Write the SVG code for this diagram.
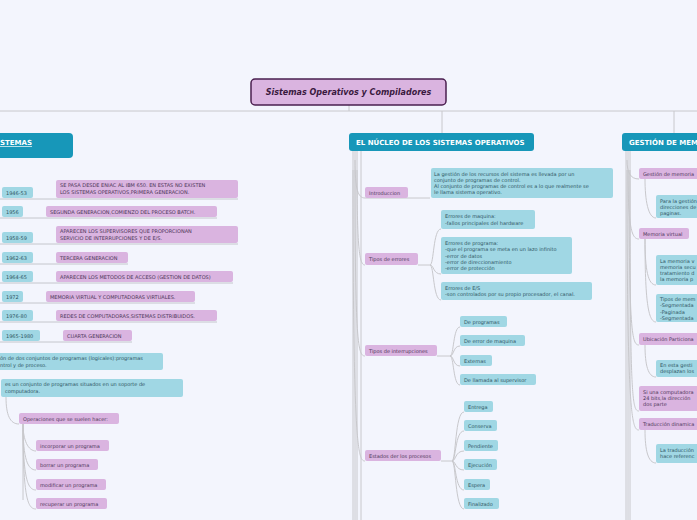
<svg xmlns="http://www.w3.org/2000/svg" width="697" height="520" viewBox="0 0 697 520">
<style>
text{font-family:"DejaVu Sans",Verdana,sans-serif;font-size:5px}
.p{fill:#dab4e0}
.t{fill:#a0d7e4}
.pt{fill:#4d3658}
.tt{fill:#2e5563}
.h{fill:#1797b9}
.ht{fill:#fff;font-weight:bold;font-size:7px}
.c{fill:none;stroke:#c8c8cc;stroke-width:1}
.u{stroke:#c4c6cc;stroke-width:1}
</style>
<rect width="697" height="520" fill="#f3f5fd"/>
<g id="connectors">
<path class="c" d="M0 111 H697" stroke-width="1.5"/>
<path class="c" d="M349 105 V111 M442 111 V133 M674 111 V133"/>
<path class="c" d="M353 151 V520 M355 151 V520 M357 151 V520 M361 151 V520"/>
<path class="c" d="M355 160 C355 190 358 198 365 198 H430"/>
<path class="c" d="M357 170 C357 255 360 265 365 265 M418 265 H430 M430 265 C434 265 433 229 441 229 M430 265 C434 265 433 274 441 274 M430 265 C434 265 433 300 441 300"/>
<path class="c" d="M355 170 C355 345 358 356 365 356 M437 356 H450 M450 356 C454 356 453 327 460 327 M450 356 C454 356 453 346 460 346 M450 356 C454 356 453 366 460 366 M450 356 C454 356 453 385 460 385"/>
<path class="c" d="M353 170 C353 450 358 461 365 461 M441 461 H452 M452 461 C456 461 455 412 464 412 M452 461 C456 461 455 431 464 431 M452 461 C456 461 455 451 464 451 M452 461 C456 461 455 470 464 470 M452 461 C456 461 455 490 464 490 M452 461 C456 461 455 509 464 509"/>
<path class="c" d="M626 151 V520 M628 151 V520 M630 151 V520"/>
<path class="c" d="M627 160 C627 172 630 179 639 179 M645 179 C645 200 648 218 656 218 M628 170 C628 230 632 239 639 239 M645 239 C645 270 648 285 656 285 M645 239 C645 300 648 322 656 322 M629 170 C629 335 632 345 639 345 M645 345 C645 365 648 377 656 377 M630 170 C630 400 632 411 639 411 M627 170 C627 420 632 430 639 430 M645 430 C645 450 648 463 656 463"/>
<path class="c" d="M6 397 C6 415 10 424 19 424 M23 424 V500 M23 424 C23 440 28 451 36 451 M23 424 C23 460 28 470 36 470 M23 424 C23 480 28 490 36 490 M23 424 C23 500 28 509 36 509"/>
</g>
<g id="root"><rect x="251" y="79" width="195" height="26" rx="4" fill="#dab4e0" stroke="#4a1f4f" stroke-width="1.5"/><text x="348.5" y="95" text-anchor="middle" style="font-size:8px;font-weight:bold;font-style:italic;fill:#3a1a3f">Sistemas Operativos y Compiladores</text></g>
<g id="h-left"><rect class="h" x="-10" y="133" width="83" height="25" rx="4"/><text class="ht" x="0" y="145" text-decoration="underline">STEMAS </text></g>
<g id="h-center"><rect class="h" x="349" y="133" width="185" height="18" rx="3"/><text class="ht" x="356" y="145">EL NÚCLEO DE LOS SISTEMAS OPERATIVOS</text></g>
<g id="h-right"><rect class="h" x="622" y="133" width="90" height="18" rx="3"/><text class="ht" x="629" y="145">GESTIÓN DE MEMORIA</text></g>
<g id="left-timeline">
<line class="u" x1="0" y1="199" x2="238" y2="199"/><rect class="t" x="2" y="187" width="31" height="11" rx="2"/><text class="tt" x="6" y="194.5">1946-53</text><rect class="p" x="56" y="180" width="182" height="18" rx="2"/><text class="pt" x="60" y="187">SE PASA DESDE ENIAC AL IBM 650. EN ESTAS NO EXISTEN</text><text class="pt" x="60" y="194">LOS SISTEMAS OPERATIVOS,PRIMERA GENERACION.</text>
<line class="u" x1="0" y1="218" x2="217" y2="218"/><rect class="t" x="2" y="206" width="21" height="11" rx="2"/><text class="tt" x="6" y="213.5">1956</text><rect class="p" x="46" y="206" width="171" height="11" rx="2"/><text class="pt" x="50" y="213.5">SEGUNDA GENERACION,COMIENZO DEL PROCESO BATCH.</text>
<line class="u" x1="0" y1="244" x2="238" y2="244"/><rect class="t" x="2" y="232" width="31" height="11" rx="2"/><text class="tt" x="6" y="239.5">1958-59</text><rect class="p" x="56" y="226" width="182" height="17" rx="2"/><text class="pt" x="60" y="233">APARECEN LOS SUPERVISORES QUE PROPORCIONAN</text><text class="pt" x="60" y="239.5">SERVICIO DE INTERRUPCIONES Y DE E/S.</text>
<line class="u" x1="0" y1="264" x2="128" y2="264"/><rect class="t" x="2" y="252" width="31" height="11" rx="2"/><text class="tt" x="6" y="259.5">1962-63</text><rect class="p" x="56" y="252" width="72" height="11" rx="2"/><text class="pt" x="60" y="259.5">TERCERA GENERACION</text>
<line class="u" x1="0" y1="283" x2="233" y2="283"/><rect class="t" x="2" y="271" width="31" height="11" rx="2"/><text class="tt" x="6" y="278.5">1964-65</text><rect class="p" x="56" y="271" width="177" height="11" rx="2"/><text class="pt" x="60" y="278.5">APARECEN LOS METODOS DE ACCESO (GESTION DE DATOS)</text>
<line class="u" x1="0" y1="303" x2="195" y2="303"/><rect class="t" x="2" y="291" width="21" height="11" rx="2"/><text class="tt" x="6" y="298.5">1972</text><rect class="p" x="46" y="291" width="149" height="11" rx="2"/><text class="pt" x="50" y="298.5">MEMORIA VIRTUAL Y COMPUTADORAS VIRTUALES.</text>
<line class="u" x1="0" y1="322" x2="217" y2="322"/><rect class="t" x="2" y="310" width="31" height="11" rx="2"/><text class="tt" x="6" y="317.5">1976-80</text><rect class="p" x="56" y="310" width="161" height="11" rx="2"/><text class="pt" x="60" y="317.5">REDES DE COMPUTADORAS,SISTEMAS DISTRIBUIDOS.</text>
<line class="u" x1="0" y1="342" x2="132" y2="342"/><rect class="t" x="2" y="330" width="38" height="11" rx="2"/><text class="tt" x="6" y="337.5">1965-1980</text><rect class="p" x="63" y="330" width="69" height="11" rx="2"/><text class="pt" x="67" y="337.5">CUARTA GENERACION</text>
</g>
<g id="left-lower">
<rect class="t" x="-5" y="353" width="168" height="17" rx="2"/><text class="tt" x="0" y="360">ón de dos conjuntos de programas (logicales):programas</text><text class="tt" x="0" y="366.5">ntrol y de proceso.</text>
<rect class="t" x="1" y="379" width="182" height="18" rx="2"/><text class="tt" x="5" y="386">es un conjunto de programas situados en un soporte de</text><text class="tt" x="5" y="392.5">computadora.</text>
<rect class="p" x="19" y="413" width="100" height="11" rx="2"/><text class="pt" x="23" y="420.5">Operaciones que se suelen hacer:</text>
<rect class="p" x="36" y="440" width="73" height="11" rx="2"/><text class="pt" x="40" y="447.5">incorporar un programa</text>
<rect class="p" x="36" y="459" width="62" height="11" rx="2"/><text class="pt" x="40" y="466.5">borrar un programa</text>
<rect class="p" x="36" y="479" width="70" height="11" rx="2"/><text class="pt" x="40" y="486.5">modificar un programa</text>
<rect class="p" x="36" y="498" width="71" height="11" rx="2"/><text class="pt" x="40" y="505.5">recuperar un programa</text>
</g>
<g id="center">
<rect class="p" x="365" y="187" width="43" height="11" rx="2"/><text class="pt" x="369" y="194.5">Introduccion</text>
<rect class="t" x="431" y="168" width="182" height="30" rx="2"/><text class="tt" x="434" y="175.5">La gestión de los recursos del sistema es llevada por un</text><text class="tt" x="434" y="181.8">conjunto de programas de control.</text><text class="tt" x="434" y="188.1">Al conjunto de programas de control es a lo que realmente se</text><text class="tt" x="434" y="194.4">le llama sistema operativo.</text>
<rect class="p" x="365" y="253" width="53" height="12" rx="2"/><text class="pt" x="369" y="261">Tipos de errores</text>
<rect class="t" x="441" y="210" width="94" height="19" rx="2"/><text class="tt" x="445" y="218">Errores de maquina:</text><text class="tt" x="445" y="224.5">-fallos principales del hardware</text>
<rect class="t" x="441" y="237" width="131" height="37" rx="2"/><text class="tt" x="445" y="245">Errores de programa:</text><text class="tt" x="445" y="251.3">-que el programa se meta en un lazo infinito</text><text class="tt" x="445" y="257.6">-error de datos</text><text class="tt" x="445" y="263.9">-error de direccionamiento</text><text class="tt" x="445" y="270.2">-error de protección</text>
<rect class="t" x="441" y="282" width="151" height="18" rx="2"/><text class="tt" x="445" y="289.5">Errores de E/S</text><text class="tt" x="445" y="296">-son controlados por su propio procesador, el canal.</text>
<rect class="p" x="365" y="345" width="72" height="11" rx="2"/><text class="pt" x="369" y="352.5">Tipos de interrupciones</text>
<rect class="t" x="460" y="316" width="47" height="11" rx="2"/><text class="tt" x="464" y="323.5">De programas</text>
<rect class="t" x="460" y="335" width="65" height="11" rx="2"/><text class="tt" x="464" y="342.5">De error de maquina</text>
<rect class="t" x="460" y="355" width="32" height="11" rx="2"/><text class="tt" x="464" y="362.5">Externas</text>
<rect class="t" x="460" y="374" width="76" height="11" rx="2"/><text class="tt" x="464" y="381.5">De llamada al supervisor</text>
<rect class="p" x="365" y="450" width="76" height="11" rx="2"/><text class="pt" x="369" y="457.5">Estados der los procesos</text>
<rect class="t" x="464" y="401" width="29" height="11" rx="2"/><text class="tt" x="468" y="408.5">Entrega</text>
<rect class="t" x="464" y="420" width="33" height="11" rx="2"/><text class="tt" x="468" y="427.5">Conserva</text>
<rect class="t" x="464" y="440" width="34" height="11" rx="2"/><text class="tt" x="468" y="447.5">Pendiente</text>
<rect class="t" x="464" y="459" width="33" height="11" rx="2"/><text class="tt" x="468" y="466.5">Ejecución</text>
<rect class="t" x="464" y="479" width="26" height="11" rx="2"/><text class="tt" x="468" y="486.5">Espera</text>
<rect class="t" x="464" y="498" width="35" height="11" rx="2"/><text class="tt" x="468" y="505.5">Finalizado</text>
</g>
<g id="right">
<rect class="p" x="639" y="168" width="70" height="11" rx="2"/><text class="pt" x="643" y="175.5">Gestión de memoria</text>
<rect class="t" x="656" y="195" width="50" height="23" rx="2"/><text class="tt" x="660" y="202.5">Para la gestión</text><text class="tt" x="660" y="208.8">direcciones de</text><text class="tt" x="660" y="215.1">paginas.</text>
<rect class="p" x="639" y="228" width="50" height="11" rx="2"/><text class="pt" x="643" y="235.5">Memoria virtual</text>
<rect class="t" x="656" y="255" width="50" height="30" rx="2"/><text class="tt" x="660" y="262.5">La memoria v</text><text class="tt" x="660" y="268.8">memoria secu</text><text class="tt" x="660" y="275.1">tratamiento d</text><text class="tt" x="660" y="281.4">la memoria p</text>
<rect class="t" x="656" y="294" width="50" height="28" rx="2"/><text class="tt" x="660" y="301">Tipos de mem</text><text class="tt" x="660" y="307.3">-Segmentada</text><text class="tt" x="660" y="313.6">-Paginada</text><text class="tt" x="660" y="319.9">-Segmentada</text>
<rect class="p" x="639" y="333" width="70" height="12" rx="2"/><text class="pt" x="643" y="341">Ubicación Particiona</text>
<rect class="t" x="656" y="360" width="50" height="17" rx="2"/><text class="tt" x="660" y="367">En esta gesti</text><text class="tt" x="660" y="373.3">desplazan los</text>
<rect class="p" x="639" y="386" width="70" height="25" rx="2"/><text class="pt" x="643" y="393.5">Si una computadora</text><text class="pt" x="643" y="399.8">24 bits,la dirección</text><text class="pt" x="643" y="406.1">dos parte</text>
<rect class="p" x="639" y="418" width="70" height="12" rx="2"/><text class="pt" x="643" y="426">Traducción dinamica</text>
<rect class="t" x="656" y="444" width="50" height="19" rx="2"/><text class="tt" x="660" y="452">La traducción</text><text class="tt" x="660" y="458.3">hace referenc</text>
</g>
</svg>
